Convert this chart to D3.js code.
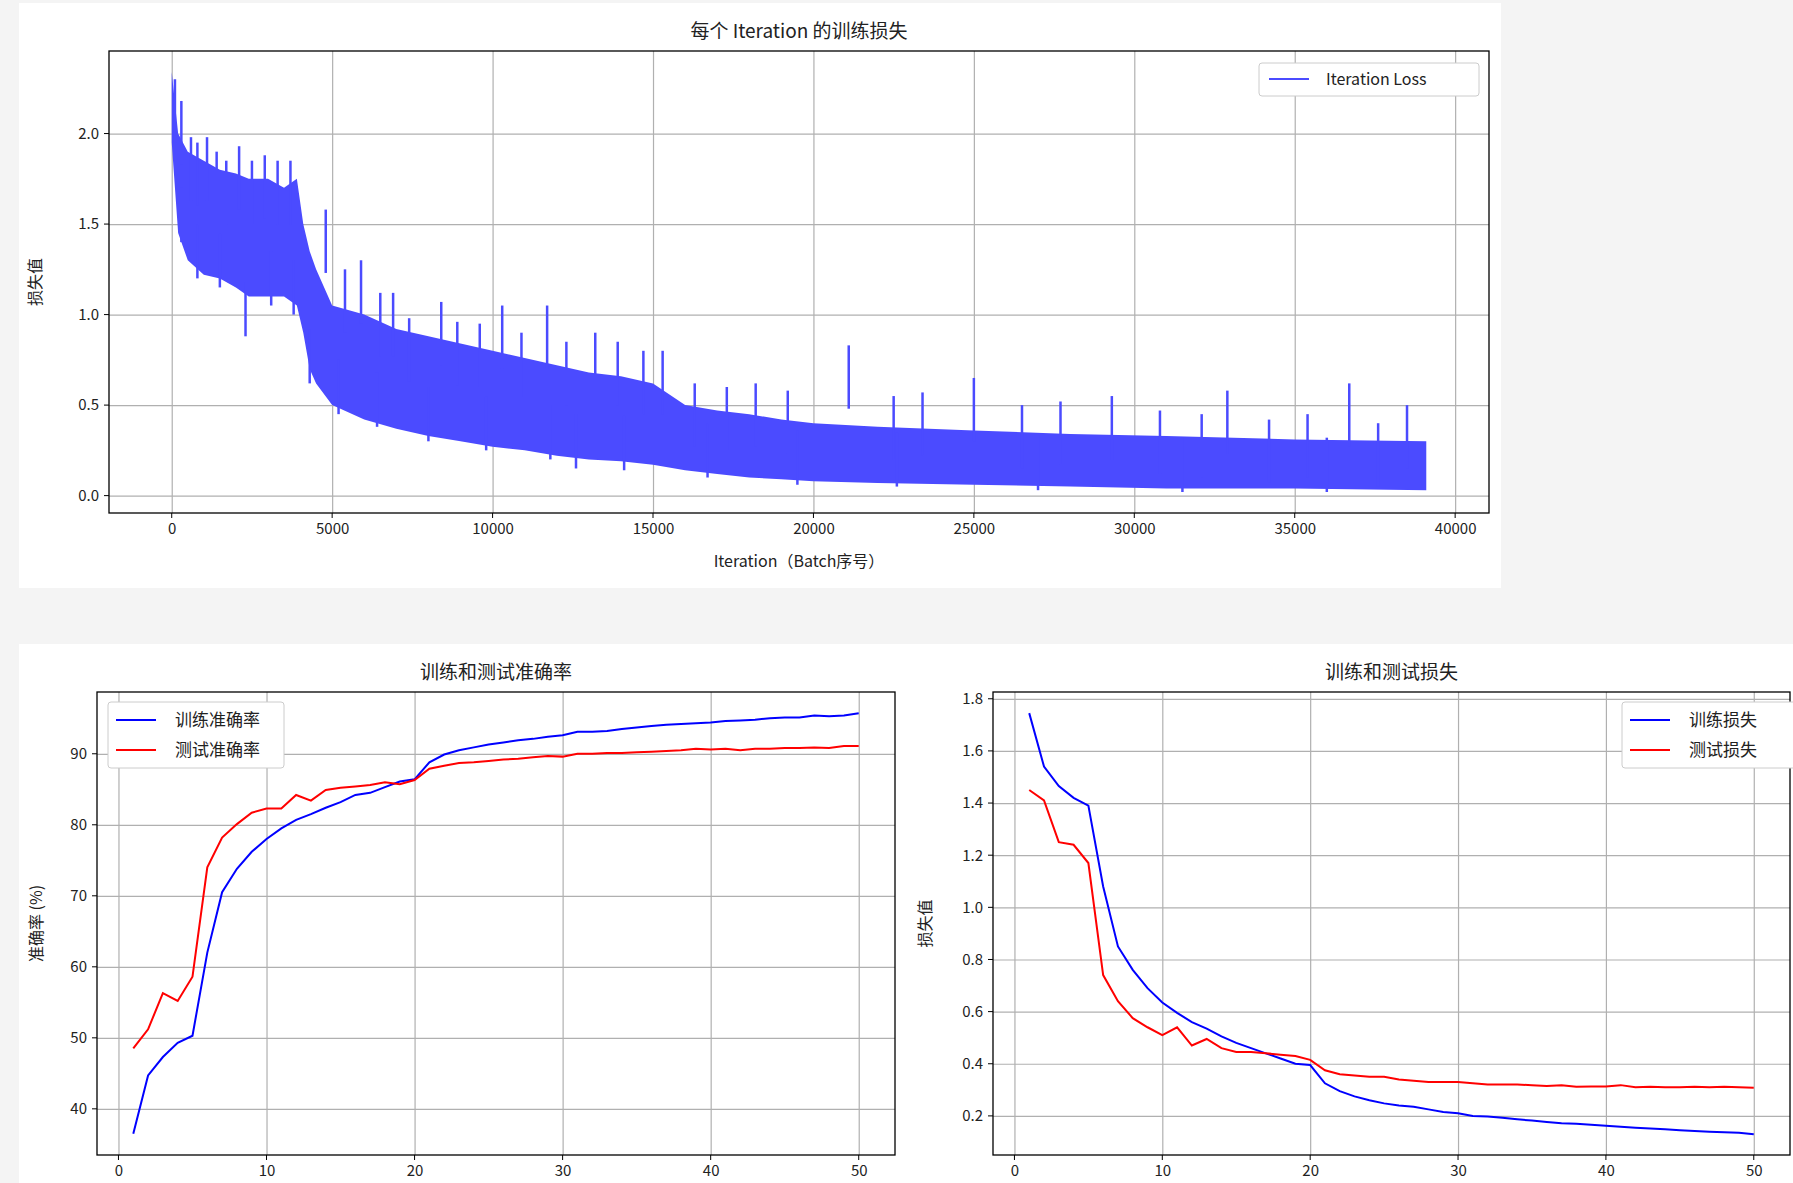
<!DOCTYPE html>
<html><head><meta charset="utf-8">
<script src="https://cdn.jsdelivr.net/npm/d3@7"></script>
<style>
body { margin:0; background:#f4f4f4; font-family:"Noto Sans CJK SC", sans-serif; }
svg text { font-family:"Noto Sans CJK SC", sans-serif; fill:#222; }
</style></head>
<body><svg id="c" width="1793" height="1183"></svg>
<script>
// datos del grafico superior: envolvente del loss por iteracion
iterPts = [0,200,500,1000,1500,2000,2400,3000,3500,3900,4100,4300,4500,5000,6000,7000,8000,9000,10000,11000,12000,13000,14000,15000,16000,17000,18000,19000,20000,22000,25000,28000,31000,35000,39100]
iterUpper = [2.34,2.0,1.9,1.85,1.8,1.78,1.75,1.75,1.7,1.75,1.5,1.35,1.25,1.05,1.0,0.92,0.88,0.84,0.8,0.76,0.72,0.68,0.66,0.62,0.5,0.47,0.45,0.42,0.4,0.38,0.36,0.34,0.33,0.31,0.3]
iterLower = [1.95,1.45,1.3,1.22,1.2,1.15,1.1,1.1,1.1,1.05,0.9,0.7,0.62,0.5,0.42,0.37,0.33,0.3,0.27,0.25,0.22,0.2,0.19,0.17,0.14,0.12,0.1,0.09,0.08,0.07,0.06,0.05,0.04,0.04,0.03]
spikeIter = [100,300,600,800,1100,1400,1700,2100,2500,2900,3300,3700,4800,5400,5900,6500,6900,7400,8400,8900,9600,10300,10900,11700,12300,13200,13900,14700,15300,16300,17300,18200,19200,21100,22500,23400,25000,26500,27700,29300,30800,32100,32900,34200,35400,36700,37600,38500]
spikeVal  = [2.3,2.18,1.98,1.95,1.98,1.9,1.85,1.93,1.85,1.88,1.85,1.85,1.58,1.25,1.3,1.12,1.12,0.98,1.07,0.96,0.95,1.05,0.9,1.05,0.85,0.9,0.85,0.8,0.8,0.62,0.6,0.62,0.58,0.83,0.55,0.57,0.65,0.5,0.52,0.55,0.47,0.45,0.58,0.42,0.45,0.62,0.4,0.5]
dipIter = [300,800,1500,2300,3100,3800,4300,5200,6400,8000,9800,11800,12600,14100,16700,19500,22600,27000,31500,36000]
dipVal  = [1.4,1.2,1.15,0.88,1.05,1.0,0.62,0.45,0.38,0.3,0.25,0.2,0.15,0.14,0.1,0.06,0.05,0.03,0.02,0.02]

// datos de epocas
epochs = d3.range(1, 51)
trainAcc = [36.5,44.7,47.3,49.3,50.3,62,70.5,73.8,76.2,78,79.5,80.7,81.5,82.4,83.2,84.2,84.5,85.3,86.1,86.4,88.8,89.9,90.5,90.9,91.3,91.6,91.9,92.1,92.4,92.6,93.1,93.1,93.2,93.5,93.7,93.9,94.1,94.2,94.3,94.4,94.6,94.7,94.8,95.0,95.1,95.1,95.4,95.3,95.4,95.7]
testAcc = [48.5,51.2,56.3,55.2,58.6,74,78.2,80.1,81.7,82.3,82.3,84.2,83.4,84.9,85.2,85.4,85.6,86.0,85.7,86.3,87.9,88.3,88.7,88.8,89.0,89.2,89.3,89.5,89.7,89.6,90.0,90.0,90.1,90.1,90.2,90.3,90.4,90.5,90.7,90.6,90.7,90.5,90.7,90.7,90.8,90.8,90.9,90.8,91.1,91.1]
trainLoss = [1.745,1.54,1.465,1.42,1.39,1.08,0.85,0.76,0.69,0.635,0.595,0.56,0.535,0.505,0.48,0.46,0.44,0.42,0.40,0.395,0.325,0.295,0.275,0.26,0.248,0.24,0.235,0.225,0.215,0.21,0.2,0.198,0.193,0.187,0.182,0.177,0.172,0.170,0.166,0.162,0.158,0.155,0.152,0.149,0.145,0.142,0.139,0.137,0.135,0.13]
testLoss = [1.45,1.41,1.25,1.24,1.17,0.74,0.64,0.575,0.54,0.51,0.54,0.47,0.495,0.46,0.445,0.445,0.44,0.435,0.43,0.415,0.375,0.36,0.355,0.35,0.35,0.34,0.335,0.33,0.33,0.33,0.325,0.32,0.32,0.32,0.318,0.315,0.318,0.312,0.313,0.313,0.318,0.31,0.312,0.31,0.31,0.312,0.31,0.312,0.31,0.308]

svg = d3.select('#c')
svg.append('rect').attr('x',19).attr('y',3).attr('width',1482).attr('height',585).attr('fill','#fff')
svg.append('rect').attr('x',19).attr('y',644).attr('width',1774).attr('height',539).attr('fill','#fff')

function panel(box, xd, yd, xt, yt, title, xlabel, ylabel, yoff) {
    g = svg.append('g')
    x = d3.scaleLinear().domain(xd).range([box.l, box.r])
    y = d3.scaleLinear().domain(yd).range([box.b, box.t])
    g.append('g').attr('transform', `translate(0,${box.b})`)
        .call(d3.axisBottom(x).tickValues(xt).tickFormat(d3.format('d')).tickSize(-(box.b-box.t)).tickSizeOuter(0).tickPadding(10))
    g.append('g').attr('transform', `translate(${box.l},0)`)
        .call(d3.axisLeft(y).tickValues(yt).tickSize(-(box.r-box.l)).tickSizeOuter(0).tickPadding(10)
              .tickFormat(d => yd[1] > 5 ? d : d.toFixed(1)))
    g.selectAll('.domain').remove()
    g.selectAll('.tick line').attr('stroke','#b0b0b0').attr('stroke-width',1.2)
    g.selectAll('.tick text').attr('font-size','15px')
    g.append('text').attr('x',(box.l+box.r)/2).attr('y',box.t-13).attr('text-anchor','middle')
        .attr('font-size','19px').text(title)
    if (xlabel) g.append('text').attr('x',(box.l+box.r)/2).attr('y',box.b+54).attr('text-anchor','middle')
        .attr('font-size','16px').text(xlabel)
    g.append('text').attr('transform',`translate(${box.l-yoff},${(box.t+box.b)/2}) rotate(-90)`)
        .attr('text-anchor','middle').attr('font-size','16px').text(ylabel)
    return {g, x, y, box}
}
function frame(p) {
    b = p.box
    p.g.append('rect').attr('x',b.l).attr('y',b.t).attr('width',b.r-b.l).attr('height',b.b-b.t)
        .attr('fill','none').attr('stroke','#000').attr('stroke-width',1.3)
}
function ticksOut(p, xt, yt) {
    b = p.box
    p.g.selectAll(null).data(xt).enter().append('line')
        .attr('x1', d => p.x(d)).attr('x2', d => p.x(d)).attr('y1', b.b).attr('y2', b.b+5).attr('stroke','#000')
    p.g.selectAll(null).data(yt).enter().append('line')
        .attr('y1', d => p.y(d)).attr('y2', d => p.y(d)).attr('x1', b.l-5).attr('x2', b.l).attr('stroke','#000')
}

// I. grafico superior
xt1 = [0,5000,10000,15000,20000,25000,30000,35000,40000]
yt1 = [0,0.5,1.0,1.5,2.0]
p1 = panel({l:109,r:1489,t:51,b:513}, [-1955,41055], [-0.096,2.456], xt1, yt1,
    '每个 Iteration 的训练损失', 'Iteration（Batch序号）', '损失值', 68)
ticksOut(p1, xt1, yt1)
blue = '#4b4bff'
env = iterPts.map((d,i) => ({i:d, u:iterUpper[i], l:iterLower[i]}))
p1.g.append('path').datum(env)
    .attr('d', d3.area().x(d => p1.x(d.i)).y0(d => p1.y(d.l)).y1(d => p1.y(d.u)))
    .attr('fill', blue)
p1.g.selectAll(null).data(spikeIter).enter().append('line')
    .attr('x1', d => p1.x(d)).attr('x2', d => p1.x(d))
    .attr('y1', (d,i) => p1.y(spikeVal[i])).attr('y2', (d,i) => p1.y(spikeVal[i]-0.35))
    .attr('stroke', blue).attr('stroke-width',2.5)
p1.g.selectAll(null).data(dipIter).enter().append('line')
    .attr('x1', d => p1.x(d)).attr('x2', d => p1.x(d))
    .attr('y1', (d,i) => p1.y(dipVal[i])).attr('y2', (d,i) => p1.y(dipVal[i]+0.3))
    .attr('stroke', blue).attr('stroke-width',2.5)
frame(p1)
lg = p1.g.append('g').attr('transform','translate(1259,63)')
lg.append('rect').attr('width',220).attr('height',33).attr('rx',3).attr('fill','#fff').attr('stroke','#ccc')
lg.append('line').attr('x1',10).attr('x2',50).attr('y1',16).attr('y2',16).attr('stroke',blue).attr('stroke-width',2)
lg.append('text').attr('x',67).attr('y',22).attr('font-size','16px').text('Iteration Loss')

// II. graficos inferiores
xt2 = [0,10,20,30,40,50]
yt2 = [40,50,60,70,80,90]
p2 = panel({l:97,r:895,t:692,b:1155}, [-1.45,52.45], [33.5,98.7], xt2, yt2, '训练和测试准确率', null, '准确率 (%)', 55)
ticksOut(p2, xt2, yt2)
yt3 = [0.2,0.4,0.6,0.8,1.0,1.2,1.4,1.6,1.8]
p3 = panel({l:993,r:1790,t:692,b:1155}, [-1.45,52.45], [0.05,1.826], xt2, yt3, '训练和测试损失', null, '损失值', 62)
ticksOut(p3, xt2, yt3)

function series(p, vals, col) {
    p.g.append('path').datum(vals)
        .attr('d', d3.line().x((d,i) => p.x(epochs[i])).y(d => p.y(d)))
        .attr('fill','none').attr('stroke',col).attr('stroke-width',2)
}
series(p2, trainAcc, '#0000ff'); series(p2, testAcc, '#ff0000'); frame(p2)
series(p3, trainLoss, '#0000ff'); series(p3, testLoss, '#ff0000'); frame(p3)

function legend2(p, tx, ty, names) {
    l = p.g.append('g').attr('transform', `translate(${tx},${ty})`)
    l.append('rect').attr('width',176).attr('height',66).attr('rx',3).attr('fill','#fff').attr('stroke','#ccc')
    names.forEach((n,i) => {
        l.append('line').attr('x1',8).attr('x2',48).attr('y1',18+i*30).attr('y2',18+i*30)
            .attr('stroke', i ? '#ff0000' : '#0000ff').attr('stroke-width',2)
        l.append('text').attr('x',67).attr('y',24+i*30).attr('font-size','17px').text(n)
    })
}
legend2(p2, 108, 702, ['训练准确率','测试准确率'])
legend2(p3, 1622, 702, ['训练损失','测试损失'])
</script></body></html>
